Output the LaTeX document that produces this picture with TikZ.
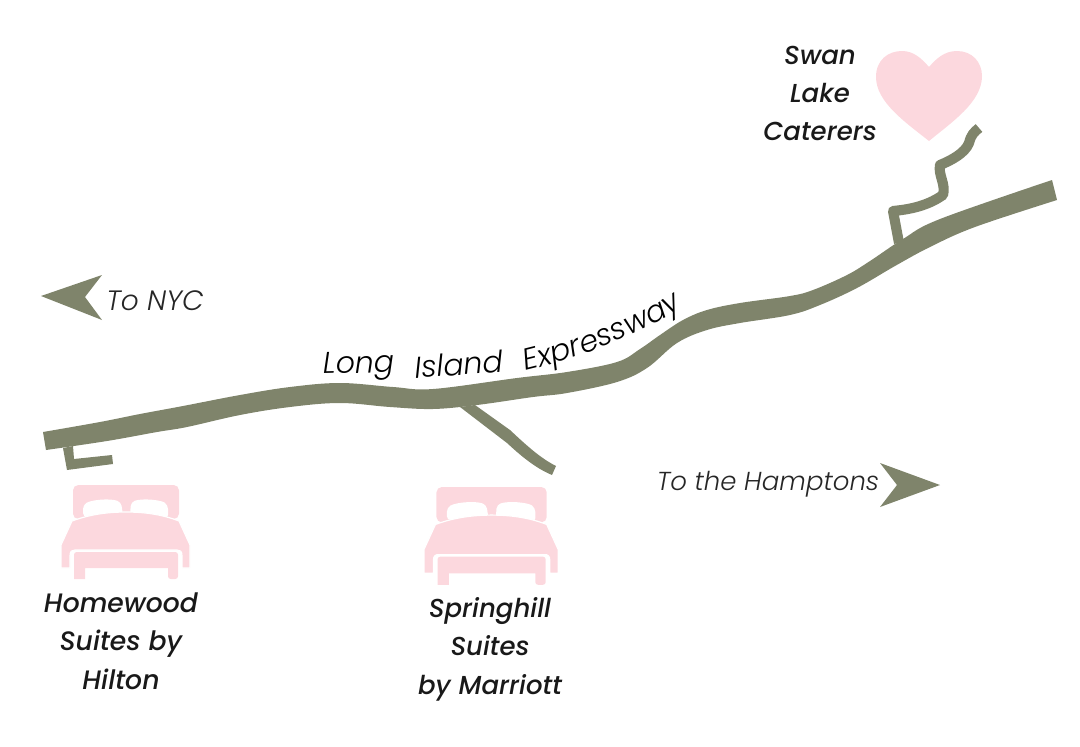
\documentclass[tikz,border=0pt]{standalone}
\usepackage{fontspec}
\usetikzlibrary{decorations.text}
\newfontfamily\boldlab[ItalicFont={Poppins Medium Italic}]{Poppins Medium}
\newfontfamily\lightlab[ItalicFont={Poppins Light Italic}]{Poppins Light}
\definecolor{road}{HTML}{7F846B}
\definecolor{pinky}{HTML}{FCD8DE}
\tikzset{
  roadfill/.style={fill=road,draw=none},
  lane/.style={draw=road,line width=7.6pt,line join=round},
  pinkfill/.style={fill=pinky,draw=none},
  venue/.style={font=\boldlab\itshape\fontsize{20}{29}\selectfont,align=center,text=black!90},
  hint/.style={font=\lightlab\itshape\fontsize{19.5}{22}\selectfont,text=black!85},
}
\newcommand{\bedshape}{%
  \fill[pinkfill,rounded corners=4] (12,34) -- (12,0) -- (118,0) -- (118,34) -- cycle;
  \fill[white,rounded corners=3] (22,32) -- (22,20) .. controls (30,15) and (48,13) .. (60,17) -- (62,30) -- cycle;
  \fill[white,rounded corners=3] (69,30) -- (70,17) .. controls (82,13) and (100,15) .. (107,20) -- (107,34) -- cycle;
  \filldraw[fill=pinky,draw=white,line width=0.9pt] (0,60) -- (11,36) .. controls (30,29) and (48,27) .. (65,27) .. controls (82,27) and (100,29) .. (118,36) -- (129,60) -- (129,83) -- (121,83) -- (121,71) .. controls (121,66) and (119,65) .. (116,65) -- (14,65) .. controls (11,65) and (9,66) .. (9,71) -- (9,83) -- (0,83) -- cycle;
  \fill[pinkfill,rounded corners=2] (13,94) -- (13,67) -- (117,67) -- (117,94) -- (107,94) [sharp corners] -- (107,83) -- (24,83) -- (24,94) -- cycle;
}
\begin{document}
\begin{tikzpicture}[x=0.75pt,y=-0.75pt]
\useasboundingbox (0,0) rectangle (1080,746);
% main road
\fill[roadfill] plot[smooth,tension=0.6] coordinates {(43,432) (100,422) (140,414) (183,406) (240,395) (290,387) (340,383) (393,387) (433,389) (517,378) (567,372) (617,362) (640,349) (660,335) (683,320) (707,310) (740,303) (790,296) (813,290) (847,275) (870,261) (903,239) (940,219) (1052,180)}
  -- plot[smooth,tension=0.6] coordinates {(1057,200) (975,227) (930,247) (895,266) (857,288) (820,305) (790,315) (740,323) (707,330) (677,343) (647,368) (617,382) (567,393) (533,397) (477,405) (433,409) (390,407) (340,403) (290,407) (240,415) (187,427) (157,432) (107,441) (46,450)} -- cycle;
% branch to Homewood
\fill[roadfill] (63,448) -- (67,470) -- (113,464) -- (112,455) -- (74,459) -- (73,446) -- cycle;
% branch to Springhill
\fill[roadfill] (460,407) -- (507,443) .. controls (520,455) and (535,468) .. (552,475) -- (556,466)
  .. controls (540,458) and (525,444) .. (510,430) -- (475,405) -- cycle;
% branch to Swan Lake
\draw[lane] (899,243) -- (893,211) .. controls (915,209) and (930,204) .. (943,195)
  .. controls (946,184) and (938,175) .. (940,165) .. controls (952,160) and (965,153) .. (969,143)
  .. controls (971,135) and (974,132) .. (979,128);
% heart
\fill[pinkfill] (929,141) .. controls (905,122) and (876,102) .. (876,77)
  .. controls (876,60) and (888,51) .. (902,51) .. controls (914,51) and (922,59) .. (929,67)
  .. controls (936,59) and (944,51) .. (957,51) .. controls (972,51) and (982,62) .. (982,76)
  .. controls (982,102) and (952,122) .. (929,141) -- cycle;
% beds
\begin{scope}[shift={(61,485)}]\bedshape\end{scope}
\begin{scope}[shift={(424,487)},x=0.78pt,y=-0.78pt]\bedshape\end{scope}
% arrows
\fill[roadfill] (41,296) -- (102,275) -- (85,297) -- (102,320) -- cycle;
\fill[roadfill] (940,485) -- (880,463) -- (897,485) -- (880,507) -- cycle;
% labels
\node[venue,font=\boldlab\itshape\fontsize{19.5}{28.5}\selectfont] (swan) at (820,95) {\strut Swan\\\strut Lake\\\strut Caterers};
\node[venue] (home) at (121,643) {\strut Homewood\\\strut Suites by\\\strut Hilton};
\node[venue,font=\boldlab\itshape\fontsize{19.5}{29}\selectfont] (spring) at (490,648) {\strut Springhill\\\strut Suites\\\strut by Marriott};
\node[hint,font=\lightlab\itshape\fontsize{21}{24}\selectfont] (nyc) at (155,301) {To NYC};
\node[hint] (hamp) at (768,484) {To the Hamptons};
% road name
\path[decorate,decoration={text along path,text align=center,text={|\lightlab\itshape\fontsize{22.5}{26}\selectfont|Long}}] (323,374) -- (395,372);
\path[decorate,decoration={text along path,text align=center,text={|\lightlab\itshape\fontsize{22.5}{26}\selectfont|Island}}] (416,378) -- (503,372);
\path[decorate,decoration={text along path,text align=center,text={|\lightlab\itshape\fontsize{22.5}{26}\selectfont|Expressway}}] (524,371) .. controls (580,358) and (640,335) .. (684,306);
\end{tikzpicture}
\end{document}
